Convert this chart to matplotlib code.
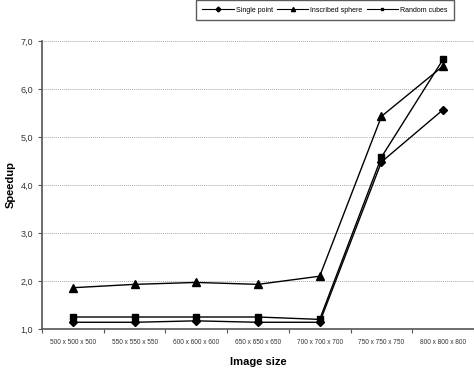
import matplotlib
matplotlib.use("Agg")
import matplotlib.pyplot as plt
from matplotlib.ticker import FixedLocator, FuncFormatter

plt.rcParams['font.family'] = ['Liberation Sans', 'DejaVu Sans']

sizes = ["500 x 500 x 500", "550 x 550 x 550", "600 x 600 x 600", "650 x 650 x 650",
         "700 x 700 x 700", "750 x 750 x 750", "800 x 800 x 800"]
single_point = [1.14, 1.14, 1.17, 1.14, 1.14, 4.48, 5.57]
inscribed_sphere = [1.86, 1.93, 1.97, 1.93, 2.10, 5.43, 6.48]
random_cubes = [1.25, 1.25, 1.25, 1.25, 1.20, 4.58, 6.62]

fig = plt.figure(figsize=(4.74, 3.87), dpi=100)
ax = fig.add_axes([42 / 474, 1 - 329 / 387, 1 - 42 / 474, (329 - 41) / 387])

x = list(range(len(sizes)))
l1, = ax.plot(x, single_point, color="black", lw=1.0, marker="D", ms=4)
l2, = ax.plot(x, inscribed_sphere, color="black", lw=1.0, marker="^", ms=5.5)
l3, = ax.plot(x, random_cubes, color="black", lw=1.0, marker="s", ms=4.5)

ax.set_xlim(-0.5, len(sizes) - 0.5)
ax.set_ylim(1.0, 7.0)
ax.set_yticks([1, 2, 3, 4, 5, 6, 7])
ax.yaxis.set_major_formatter(FuncFormatter(lambda v, p: f"{v:.1f}".replace(".", ",")))
ax.xaxis.set_major_locator(FixedLocator([i - 0.5 for i in range(len(sizes) + 1)]))
ax.xaxis.set_major_formatter(FuncFormatter(lambda v, p: ""))
ax.xaxis.set_minor_locator(FixedLocator(x))
ax.set_xticklabels(sizes, minor=True)
ax.tick_params(axis="x", which="minor", length=0, labelsize=4.7, labelcolor="#333333", pad=7)
ax.tick_params(axis="x", which="major", length=3, color="#555555")
ax.tick_params(axis="y", length=3, color="#555555", labelsize=6.5, labelcolor="#333333")

ax.grid(axis="y", color="#aaaaaa", ls=(0, (1, 1)), lw=0.7)
for s in ["top", "right"]:
    ax.spines[s].set_visible(False)
for s in ["left", "bottom"]:
    ax.spines[s].set_color("#555555")
    ax.spines[s].set_linewidth(1.2)

ax.set_ylabel("Speedup", fontsize=8, fontweight="bold", labelpad=3)
ax.set_xlabel("Image size", fontsize=8, fontweight="bold", labelpad=8)

l1m, = ax.plot([], [], color="black", lw=0.8, marker="D", ms=2.5)
l2m, = ax.plot([], [], color="black", lw=0.8, marker="^", ms=3)
l3m, = ax.plot([], [], color="black", lw=0.8, marker="s", ms=2)
leg = fig.legend([l1m, l2m, l3m], ["Single point", "Inscribed sphere", "Random cubes"],
                 loc="center", bbox_to_anchor=(325 / 474, 1 - 10 / 387), ncol=3,
                 fontsize=5.0, frameon=True, fancybox=False, handlelength=4.5,
                 columnspacing=0.6, handletextpad=0.3, borderpad=0.9)
leg.get_frame().set_edgecolor("#333333")
leg.get_frame().set_linewidth(1.0)

fig.savefig("out.png", dpi=100)
